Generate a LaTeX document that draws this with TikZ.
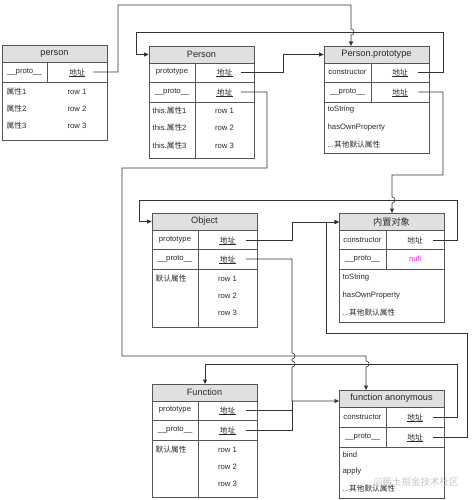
\documentclass[tikz,border=0pt]{standalone}
\usepackage{fontspec}
\setmainfont{Liberation Sans}
\newfontfamily\cjk{Noto Sans CJK SC}
\usetikzlibrary{arrows.meta}
\definecolor{hdrgray}{HTML}{E0E0E0}
\definecolor{framegray}{HTML}{555555}
\definecolor{txtgray}{HTML}{2A2A2A}
\definecolor{nullpink}{HTML}{F020F0}
\newcommand\addr{{\cjk 地址}}
\tikzset{
  frame/.style={draw=framegray, line width=0.6pt},
  hbox/.style={draw=framegray, fill=hdrgray, line width=0.6pt, minimum width=105pt,
    minimum height=17pt, inner sep=0pt, font=\fontsize{9.2}{10}\selectfont, text=txtgray},
  cell/.style={inner sep=0.5pt, font=\fontsize{7.7}{9}\selectfont, text=txtgray},
  lcell/.style={cell, anchor=west},
  ul/.style={cell, append after command={(\tikzlastnode.south west) edge[draw=txtgray, line width=0.45pt] (\tikzlastnode.south east)}},
  conn/.style={draw=black!80, line width=0.6pt},
  arr/.style={conn, -{Triangle[length=4.5pt,width=4pt]}},
}
\begin{document}
\begin{tikzpicture}[x=1pt,y=-1pt]
\useasboundingbox (0,0) rectangle (474,500);

% ---------- person ----------
\node[hbox] (p1h) at (54.5,53.5) {person};
\draw[frame] (2,45) rectangle (107,140);
\draw[frame] (2,82) -- (107,82) (47,62) -- (47,82);
\node[cell] (p1k) at (24.5,72) {\_\_proto\_\_};
\node[ul] (p1a) at (77,72) {\addr};
\node[lcell] (p1b1) at (6,92) {{\cjk 属性}1};
\node[lcell] (p1b2) at (6,109) {{\cjk 属性}2};
\node[lcell] (p1b3) at (6,126) {{\cjk 属性}3};
\node[cell] (p1r1) at (77,92) {row 1};
\node[cell] (p1r2) at (77,109) {row 2};
\node[cell] (p1r3) at (77,126) {row 3};

% ---------- Person ----------
\node[hbox] (p2h) at (201.5,54.5) {Person};
\draw[frame] (149,46) rectangle (254,158);
\draw[frame] (149,82) -- (254,82) (149,102) -- (254,102) (195,63) -- (195,158);
\node[cell] (p2k1) at (172,72) {prototype};
\node[ul] (p2pa) at (224.5,72) {\addr};
\node[cell] (p2k2) at (172,92) {\_\_proto\_\_};
\node[ul] (p2aa) at (224.5,92) {\addr};
\node[lcell] (p2b1) at (152,111) {this.{\cjk 属性}1};
\node[lcell] (p2b2) at (152,128) {this.{\cjk 属性}2};
\node[lcell] (p2b3) at (152,146) {this.{\cjk 属性}3};
\node[cell] (p2r1) at (224.5,111) {row 1};
\node[cell] (p2r2) at (224.5,128) {row 2};
\node[cell] (p2r3) at (224.5,146) {row 3};

% ---------- Person.prototype ----------
\node[hbox] (p3h) at (376.5,54.5) {Person.prototype};
\draw[frame] (324,46) rectangle (429,153);
\draw[frame] (324,82) -- (429,82) (324,102) -- (429,102) (371,63) -- (371,102);
\node[cell] (p3k1) at (347.5,72) {constructor};
\node[ul] (p3ca) at (400,72) {\addr};
\node[cell] (p3k2) at (347.5,92) {\_\_proto\_\_};
\node[ul] (p3aa) at (400,92) {\addr};
\node[lcell] (p3b1) at (327,110) {toString};
\node[lcell] (p3b2) at (327,128) {hasOwnProperty};
\node[lcell] (p3b3) at (327,145) {...{\cjk 其他默认属性}};

% ---------- Object ----------
\node[hbox] (oh) at (204.5,221.5) {Object};
\draw[frame] (152,213) rectangle (257,327);
\draw[frame] (152,249) -- (257,249) (152,269) -- (257,269) (198,230) -- (198,327);
\node[cell] (ok1) at (175,240) {prototype};
\node[ul] (opa) at (227.5,240) {\addr};
\node[cell] (ok2) at (175,259) {\_\_proto\_\_};
\node[ul] (oaa) at (227.5,259) {\addr};
\node[lcell] (ob1) at (155,279) {{\cjk 默认属性}};
\node[cell] (or1) at (227.5,279) {row 1};
\node[cell] (or2) at (227.5,296) {row 2};
\node[cell] (or3) at (227.5,313) {row 3};

% ---------- 内置对象 ----------
\node[hbox, font=\cjk\fontsize{9.2}{10}\selectfont] (bh) at (391.5,221.5) {内置对象};
\draw[frame] (339,213) rectangle (444,322);
\draw[frame] (339,249) -- (444,249) (339,269) -- (444,269) (386,230) -- (386,269);
\node[cell] (bk1) at (362.5,240) {constructor};
\node[cell] (bca) at (415,240) {\addr};
\node[cell] (bk2) at (362.5,259) {\_\_proto\_\_};
\node[cell, text=nullpink] (bnull) at (415,259) {null};
\node[lcell] (bb1) at (342,278) {toString};
\node[lcell] (bb2) at (342,296) {hasOwnProperty};
\node[lcell] (bb3) at (342,313) {...{\cjk 其他默认属性}};

% ---------- Function ----------
\node[hbox] (fh) at (204.5,392.5) {Function};
\draw[frame] (152,384) rectangle (257,497);
\draw[frame] (152,420) -- (257,420) (152,440) -- (257,440) (198,401) -- (198,497);
\node[cell] (fk1) at (175,410) {prototype};
\node[ul] (fpa) at (227.5,410) {\addr};
\node[cell] (fk2) at (175,430) {\_\_proto\_\_};
\node[ul] (faa) at (227.5,430) {\addr};
\node[lcell] (fb1) at (155,450) {{\cjk 默认属性}};
\node[cell] (fr1) at (227.5,450) {row 1};
\node[cell] (fr2) at (227.5,467) {row 2};
\node[cell] (fr3) at (227.5,484) {row 3};

% ---------- function anonymous ----------
\node[hbox] (ah) at (391.5,398.5) {function anonymous};
\draw[frame] (339,390) rectangle (444,498);
\draw[frame] (339,427) -- (444,427) (339,447) -- (444,447) (386,407) -- (386,447);
\node[cell] (ak1) at (362.5,417) {constructor};
\node[ul] (aca) at (415,417) {\addr};
\node[cell] (ak2) at (362.5,437) {\_\_proto\_\_};
\node[ul] (aaa) at (415,437) {\addr};
\node[lcell] (ab1) at (342,455) {bind};
\node[lcell] (ab2) at (342,472) {apply};
\node[lcell] (ab3) at (342,489) {...{\cjk 其他默认属性}};

% watermark
\node[text=gray!45, font=\cjk\fontsize{9.5}{10}\selectfont, inner sep=0] (wm) at (416,482) {@稀土掘金技术社区};

% ---------- connectors ----------
% person.__proto__ -> Person.prototype
\draw[arr] ([xshift=8pt]p1a.east) -- (118,72) -- (118,5) -- (351,5) -- (351,29)
  .. controls (355,29) and (355,35) .. (351,35) -- (351,46);
% Person.prototype.constructor -> Person
\draw[arr] ([xshift=10pt]p3ca.east) -- (443,72) -- (443,32) -- (136,32) -- (136,54.5) -- (p2h.west);
% Person.prototype -> Person.prototype
\draw[arr] ([xshift=8pt]p2pa.east) -- (283,72) -- (283,54.5) -- (p3h.west);
% Person.__proto__ -> function anonymous
\draw[arr] ([xshift=8pt]p2aa.east) -- (267,92) -- (267,168) -- (122,168) -- (122,356) -- (366,356)
  -- (366,361) .. controls (370,361) and (370,367) .. (366,367) -- (366,390);
% Person.prototype.__proto__ -> 内置对象
\draw[arr] ([xshift=10pt]p3aa.east) -- (443,92) -- (443,175) -- (392,175) -- (392,197)
  .. controls (396,197) and (396,203) .. (392,203) -- (392,213);
% Object.prototype -> 内置对象
\draw[arr] ([xshift=10pt]opa.east) -- (292,240) -- (292,222) -- (339,222);
% function anonymous.__proto__ -> 内置对象
\draw[arr] ([xshift=10pt]aaa.east) -- (467,437) -- (467,333) -- (326,333) -- (326,222) -- (339,222);
% 内置对象.constructor -> Object
\draw[arr] ([xshift=10pt]bca.east) -- (457,240) -- (457,200) -- (139,200) -- (139,221.5) -- (oh.west);
% Object.__proto__ -> function anonymous
\draw[arr] ([xshift=10pt]oaa.east) -- (292,259) -- (292,353)
  .. controls (296,353) and (296,359) .. (292,359) -- (292,361)
  .. controls (296,361) and (296,367) .. (292,367) -- (292,401) -- (339,401);
% Function.prototype / Function.__proto__ -> function anonymous
\draw[conn] ([xshift=10pt]fpa.east) -- (292,410) -- (292,401);
\draw[conn] ([xshift=10pt]faa.east) -- (292,430) -- (292,410);
% function anonymous.constructor -> Function
\draw[arr] ([xshift=10pt]aca.east) -- (457,417) -- (457,364) -- (205,364) -- (205,384);
\end{tikzpicture}
\end{document}
